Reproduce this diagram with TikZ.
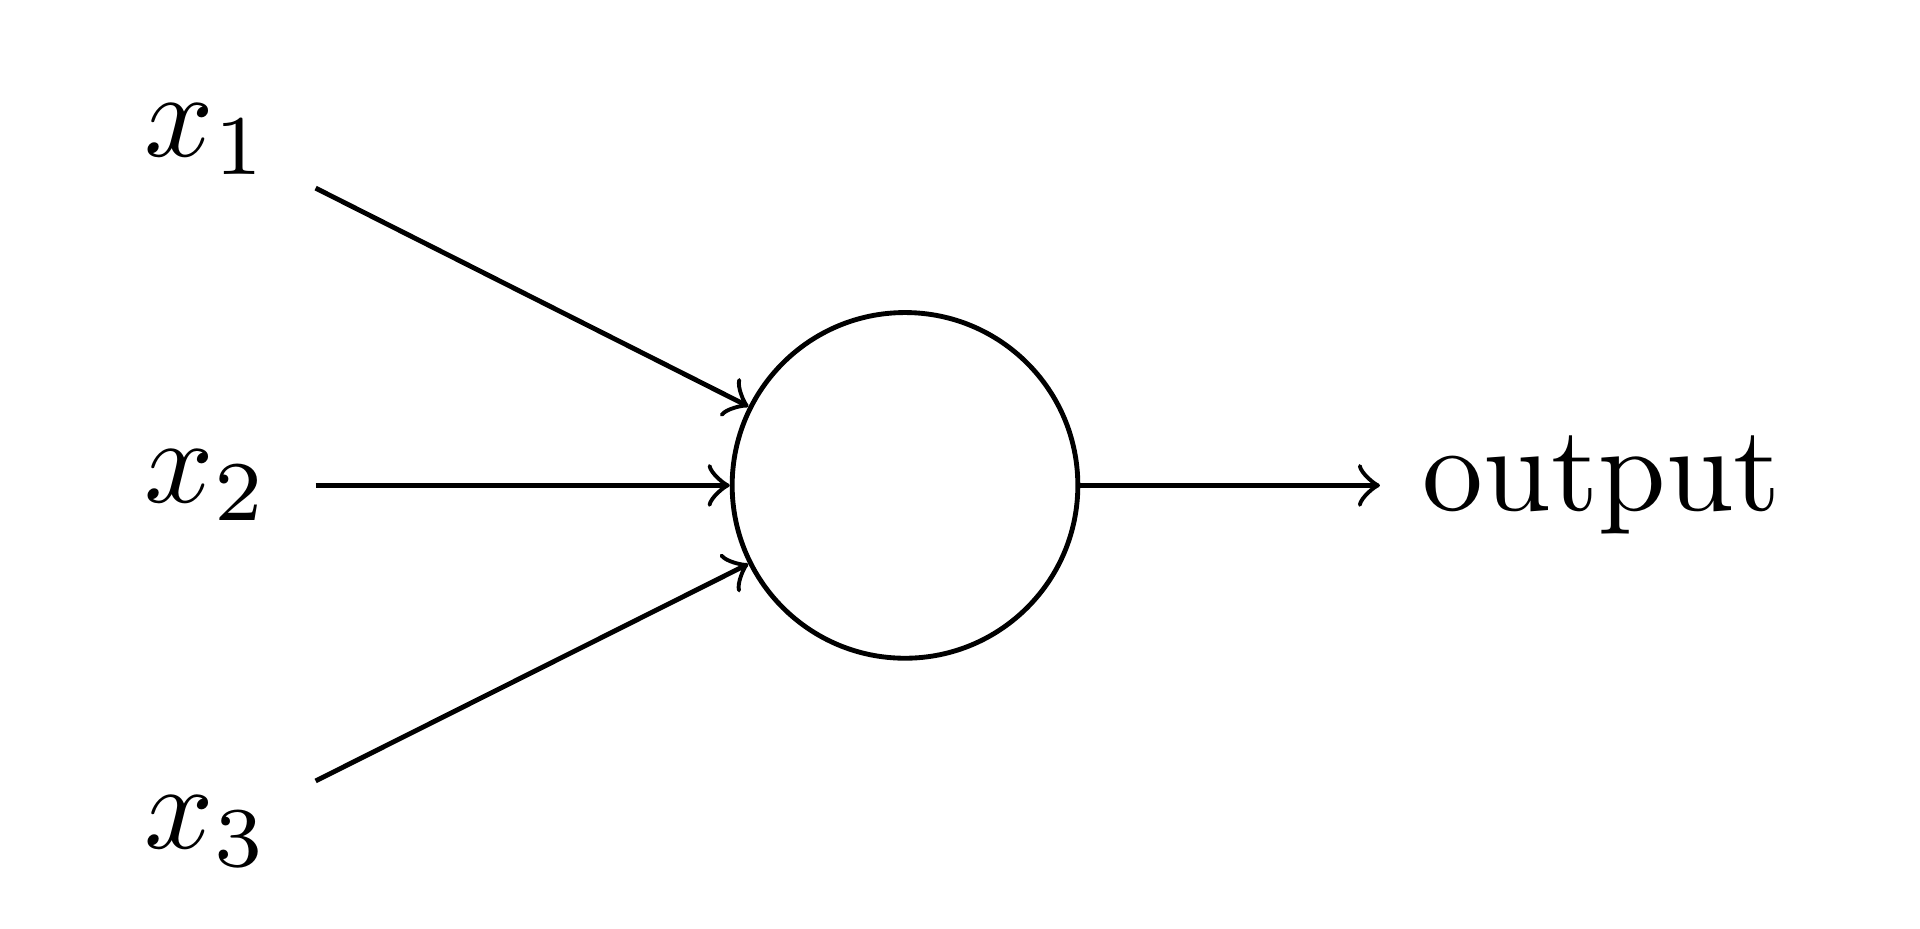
\documentclass[tikz,border=0pt]{standalone}
\usepackage{amsmath, amssymb}
\usepackage{tikz}

\begin{document}
\begin{tikzpicture}[>=to]
        \useasboundingbox (-2.618,-1.283) rectangle (2.936,1.404);
        \node[draw, circle, minimum size=1cm] (neuron) at (0,0) {};
        \node (x1) at (-2.02,1) {$x_1$};
        \node (x2) at (-2.02,0) {$x_2$};
        \node (x3) at (-2.02,-1) {$x_3$};
        \coordinate (s1) at (-1.705,0.86);
        \coordinate (s2) at (-1.705,0);
        \coordinate (s3) at (-1.705,-0.855);
        \draw[->] (s1) -- (neuron);
        \draw[->] (s2) -- (neuron);
        \draw[->] (s3) -- (neuron);
        \node[right] (out) at (1.374,0) {output};
        \draw[->] (neuron) -- (out);
    \end{tikzpicture}
\end{document}
